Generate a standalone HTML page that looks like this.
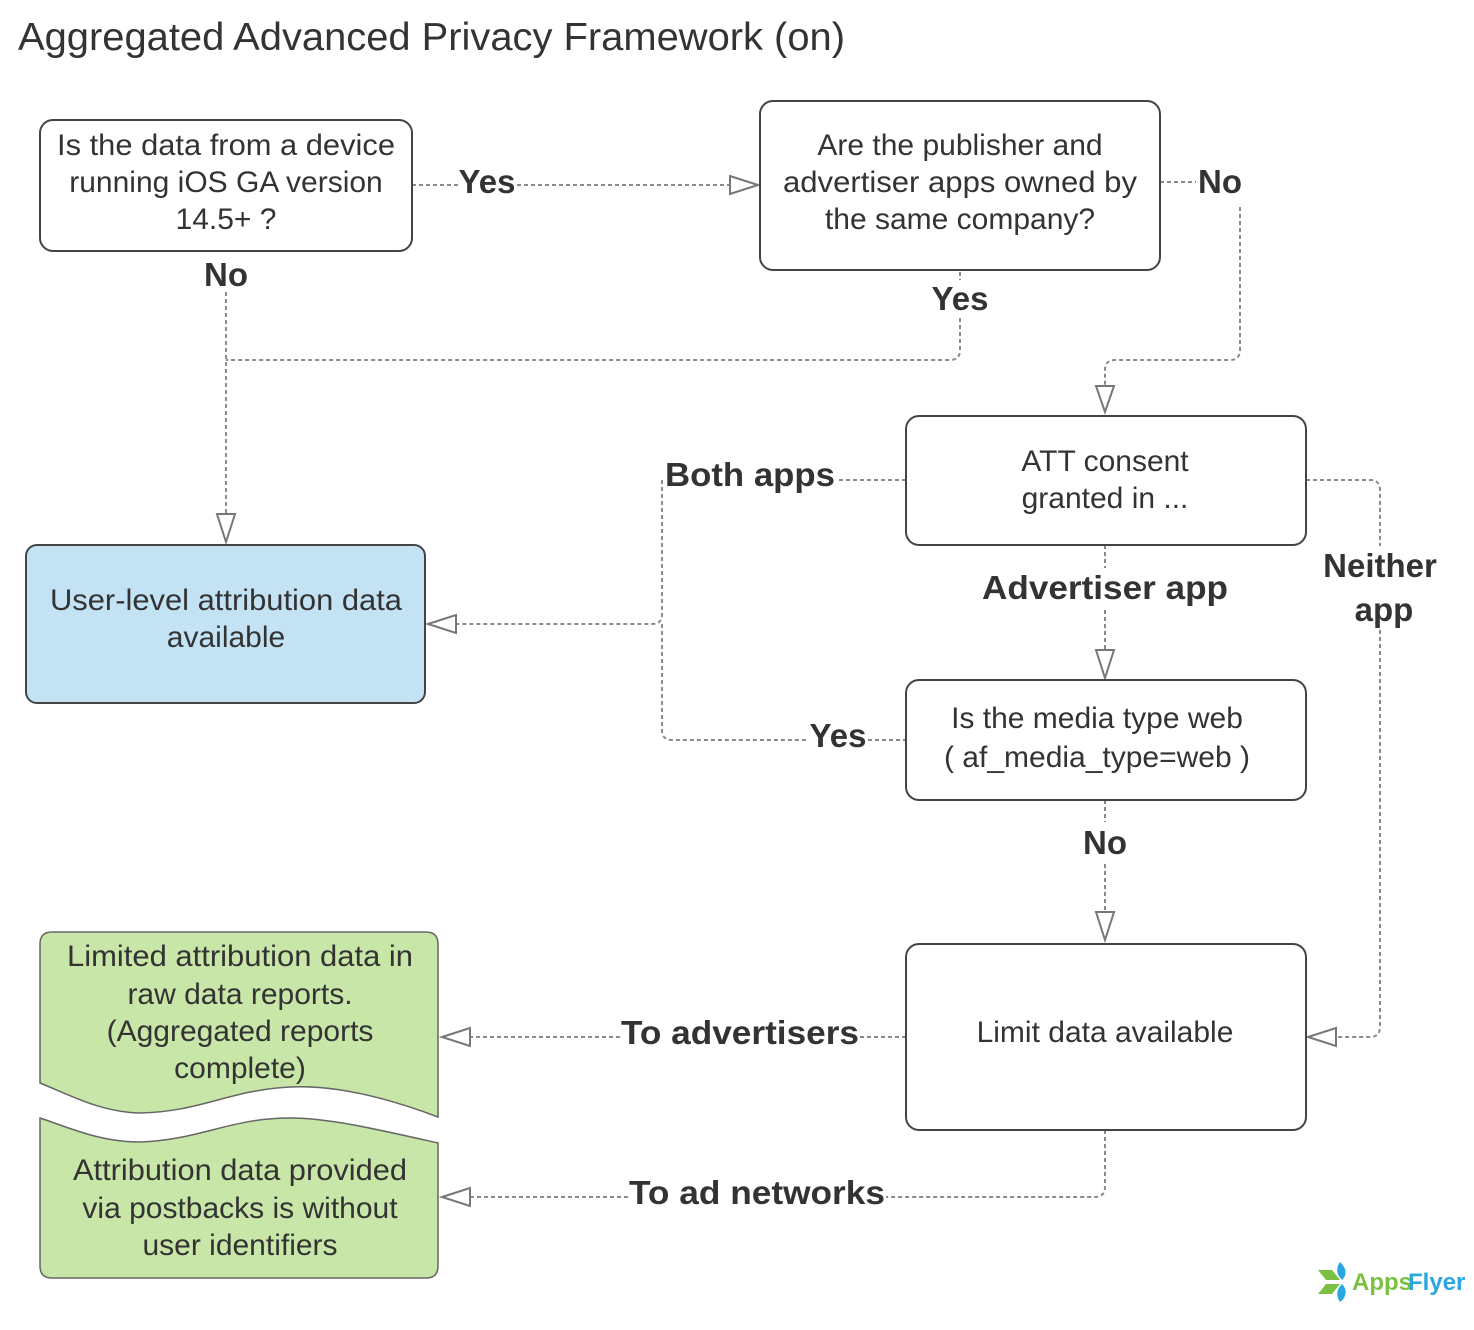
<!DOCTYPE html>
<html><head><meta charset="utf-8"><style>
html,body{margin:0;padding:0;background:#fff;}
svg{display:block;}
text{font-family:"Liberation Sans",Arial,sans-serif;fill:#333;}
.t{font-size:30px;text-anchor:middle;}
.b{font-size:33px;font-weight:bold;text-anchor:middle;}
.c{fill:none;stroke:#8a8a8a;stroke-width:2;stroke-dasharray:4 3;}
.box{fill:#fff;stroke:#444;stroke-width:2;}
.ah{fill:#fff;stroke:#777;stroke-width:2;}
</style></head><body>
<svg width="1474" height="1330" viewBox="0 0 1474 1330">
<text x="18" y="50" textLength="827" lengthAdjust="spacingAndGlyphs" style="font-size:39px;fill:#333">Aggregated Advanced Privacy Framework (on)</text>

<!-- connectors -->
<path class="c" d="M412 185 H458 M517 185 H732"/>
<path class="c" d="M1160 182 H1196 M1240 207 V350 Q1240 360 1230 360 H1115 Q1105 360 1105 370 V388"/>
<path class="c" d="M226 292 V516"/>
<path class="c" d="M960 272 V280 M960 318 V350 Q960 360 950 360 H226"/>
<path class="c" d="M906 480 H836 M662 480 V615 Q662 624 652 624 H452 M662 624 V730 Q662 740 672 740 H808 M868 740 H906"/>
<path class="c" d="M1105 545 V568 M1105 610 V652"/>
<path class="c" d="M1306 480 H1370 Q1380 480 1380 490 V546 M1380 630 V1027 Q1380 1037 1370 1037 H1334"/>
<path class="c" d="M1105 800 V822 M1105 864 V914"/>
<path class="c" d="M906 1037 H860 M620 1037 H466"/>
<path class="c" d="M1105 1130 V1187 Q1105 1197 1095 1197 H886 M628 1197 H466"/>

<!-- arrowheads -->
<polygon class="ah" points="758,185 730,176 730,194"/>
<polygon class="ah" points="1105,412 1096,386 1114,386"/>
<polygon class="ah" points="226,542 217,514 235,514"/>
<polygon class="ah" points="428,624 456,615 456,633"/>
<polygon class="ah" points="1105,678 1096,650 1114,650"/>
<polygon class="ah" points="1105,940 1096,912 1114,912"/>
<polygon class="ah" points="1308,1037 1336,1028 1336,1046"/>
<polygon class="ah" points="442,1037 470,1028 470,1046"/>
<polygon class="ah" points="442,1197 470,1188 470,1206"/>

<!-- boxes -->
<rect class="box" x="40" y="120" width="372" height="131" rx="13"/>
<text class="t" x="226" y="155" textLength="338" lengthAdjust="spacingAndGlyphs">Is the data from a device</text>
<text class="t" x="226" y="192">running iOS GA version</text>
<text class="t" x="226" y="229">14.5+ ?</text>

<rect class="box" x="760" y="101" width="400" height="169" rx="13"/>
<text class="t" x="960" y="155">Are the publisher and</text>
<text class="t" x="960" y="192" textLength="354" lengthAdjust="spacingAndGlyphs">advertiser apps owned by</text>
<text class="t" x="960" y="229">the same company?</text>

<rect class="box" x="906" y="416" width="400" height="129" rx="13"/>
<text class="t" x="1105" y="471">ATT consent</text>
<text class="t" x="1105" y="508">granted in ...</text>

<rect x="26" y="545" width="399" height="158" rx="11" fill="#c3e3f5" stroke="#444" stroke-width="2"/>
<text class="t" x="226" y="610" textLength="352" lengthAdjust="spacingAndGlyphs">User-level attribution data</text>
<text class="t" x="226" y="647">available</text>

<rect class="box" x="906" y="680" width="400" height="120" rx="13"/>
<text class="t" x="1097" y="728">Is the media type web</text>
<text class="t" x="1097" y="767">( af_media_type=web )</text>

<rect class="box" x="906" y="944" width="400" height="186" rx="13"/>
<text class="t" x="1105" y="1042">Limit data available</text>

<path d="M52 932 H426 Q438 932 438 944 V1117 C380 1095 330 1085 290 1087 C230 1090 200 1112 140 1113 C100 1112 70 1095 40 1083 V944 Q40 932 52 932 Z" fill="#c8e6a8" stroke="#666" stroke-width="1.5"/>
<text class="t" x="240" y="966" textLength="346" lengthAdjust="spacingAndGlyphs">Limited attribution data in</text>
<text class="t" x="240" y="1004">raw data reports.</text>
<text class="t" x="240" y="1041">(Aggregated reports</text>
<text class="t" x="240" y="1078">complete)</text>

<path d="M40 1118 C70 1128 100 1142 140 1142 C200 1140 230 1118 290 1118 C330 1118 380 1130 438 1143 V1266 Q438 1278 426 1278 H52 Q40 1278 40 1266 Z" fill="#c8e6a8" stroke="#666" stroke-width="1.5"/>
<text class="t" x="240" y="1180" textLength="334" lengthAdjust="spacingAndGlyphs">Attribution data provided</text>
<text class="t" x="240" y="1218">via postbacks is without</text>
<text class="t" x="240" y="1255">user identifiers</text>

<!-- labels -->
<text class="b" x="487" y="193">Yes</text>
<text class="b" x="1220" y="193">No</text>
<text class="b" x="226" y="286">No</text>
<text class="b" x="960" y="310">Yes</text>
<text class="b" x="750" y="486" textLength="170" lengthAdjust="spacingAndGlyphs">Both apps</text>
<text class="b" x="1105" y="599" textLength="246" lengthAdjust="spacingAndGlyphs">Advertiser app</text>
<text class="b" x="1380" y="577">Neither</text>
<text class="b" x="1384" y="621">app</text>
<text class="b" x="838" y="747">Yes</text>
<text class="b" x="1105" y="854">No</text>
<text class="b" x="740" y="1044" textLength="238" lengthAdjust="spacingAndGlyphs">To advertisers</text>
<text class="b" x="757" y="1204" textLength="256" lengthAdjust="spacingAndGlyphs">To ad networks</text>

<!-- logo -->
<g transform="translate(1318,1262)">
<path d="M0 8 L14 8 L22 18 L8 18 Z" fill="#7ac143"/>
<path d="M8 22 L22 22 L14 32 L0 32 Z" fill="#7ac143"/>
<path d="M22 0 C28 6 30 12 24 18 C18 12 18 6 22 0 Z" fill="#2aa7e0"/>
<path d="M24 22 C30 28 28 36 22 40 C18 34 18 28 24 22 Z" fill="#2aa7e0"/>
</g>
<text x="1352" y="1290" style="font-size:24px;font-weight:bold;fill:#7ac143">Apps</text>
<text x="1408" y="1290" style="font-size:24px;font-weight:bold;fill:#2aa7e0">Flyer</text>
</svg>
</body></html>
